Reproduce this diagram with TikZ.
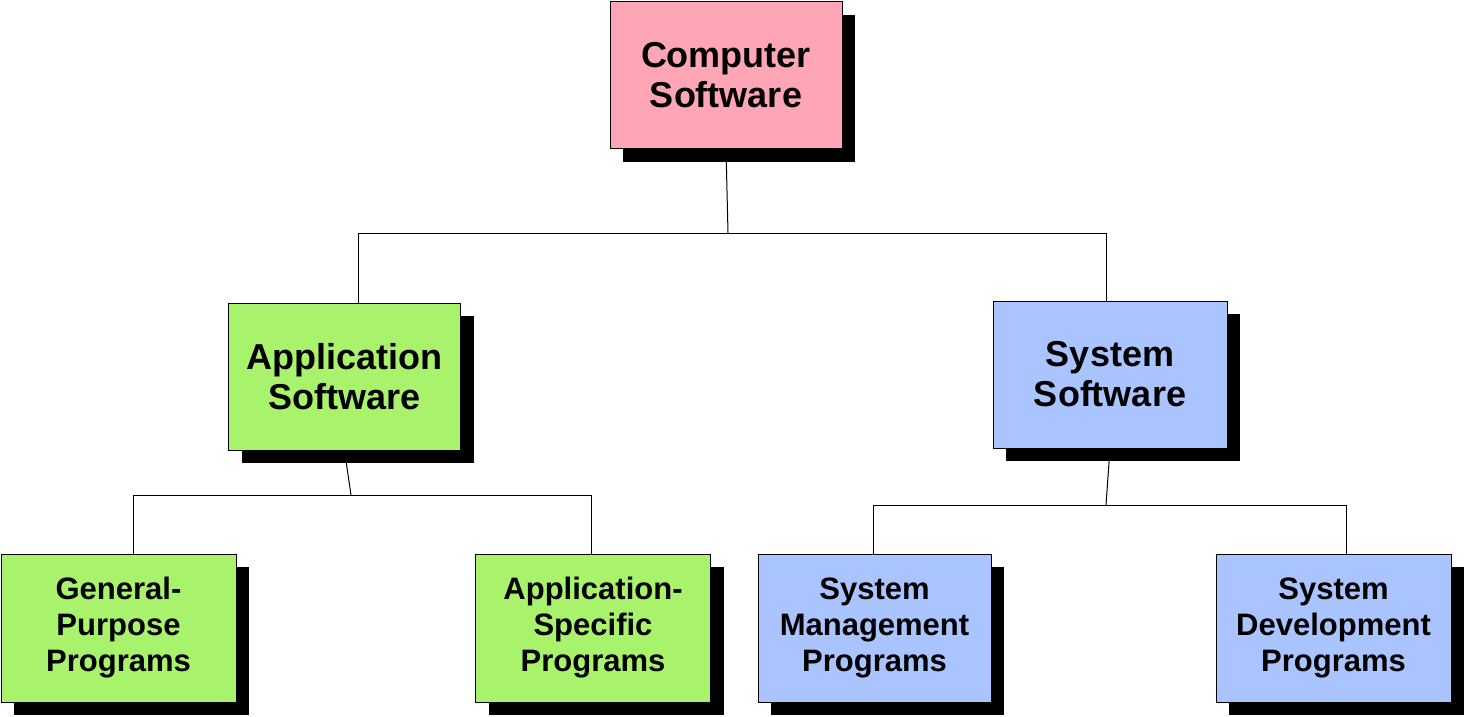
\documentclass[tikz,border=0pt]{standalone}
\usepackage{fontspec}
\setmainfont{Liberation Sans}
\usetikzlibrary{shadows}
\begin{document}
\begin{tikzpicture}[x=1pt,y=-1pt,
  box/.style={draw=black,line width=0.8pt,align=center,font=\bfseries,inner sep=0pt,
    drop shadow={shadow xshift=13pt,shadow yshift=-13pt,fill=black,opacity=1}},
  big/.style={box,minimum width=232pt,minimum height=147pt,font=\fontsize{36}{40}\selectfont\bfseries},
  small/.style={box,minimum width=235pt,minimum height=148pt,font=\fontsize{31}{36}\selectfont\bfseries},
  pinkb/.style={fill=pinkc},greenb/.style={fill=greenc},blueb/.style={fill=bluec},
  wire/.style={line width=1pt}]
\definecolor{pinkc}{HTML}{FFA6B6}
\definecolor{greenc}{HTML}{A8F26C}
\definecolor{bluec}{HTML}{A9C4FF}
\useasboundingbox (0,0) rectangle (1478,716);
\node[big,pinkb] (cs) at (726,75) {Computer\\Software};
\node[big,greenb] (as) at (344.5,376.5) {Application\\Software};
\node[big,blueb,minimum width=234pt] (ss) at (1110,374.5) {System\\Software};
\node[small,greenb] (gp) at (118.5,628) {General-\\Purpose\\Programs};
\node[small,greenb] (ap) at (593,628) {Application-\\Specific\\Programs};
\node[small,blueb,minimum width=233pt] (sm) at (874.5,628) {System\\Management\\Programs};
\node[small,blueb] (sd) at (1333.5,628) {System\\Development\\Programs};
\coordinate (j1) at (728,233);
\coordinate (j1l) at (358,233);
\coordinate (j1r) at (1106,233);
\coordinate (j2) at (351,495);
\coordinate (j2l) at (133,495);
\coordinate (j2r) at (591,495);
\coordinate (j3) at (1106,505);
\coordinate (j3l) at (873,505);
\coordinate (j3r) at (1346,505);
\draw[wire] (cs.south) -- (j1);
\draw[wire] (j1l) -- (j1r);
\draw[wire] (j1l) -- (j1l |- as.north);
\draw[wire] (j1r) -- (j1r |- ss.north);
\draw[wire] (as.south) -- (j2);
\draw[wire] (j2l) -- (j2r);
\draw[wire] (j2l) -- (j2l |- gp.north);
\draw[wire] (j2r) -- (j2r |- ap.north);
\draw[wire] (ss.south) -- (j3);
\draw[wire] (j3l) -- (j3r);
\draw[wire] (j3l) -- (j3l |- sm.north);
\draw[wire] (j3r) -- (j3r |- sd.north);
\end{tikzpicture}
\end{document}
